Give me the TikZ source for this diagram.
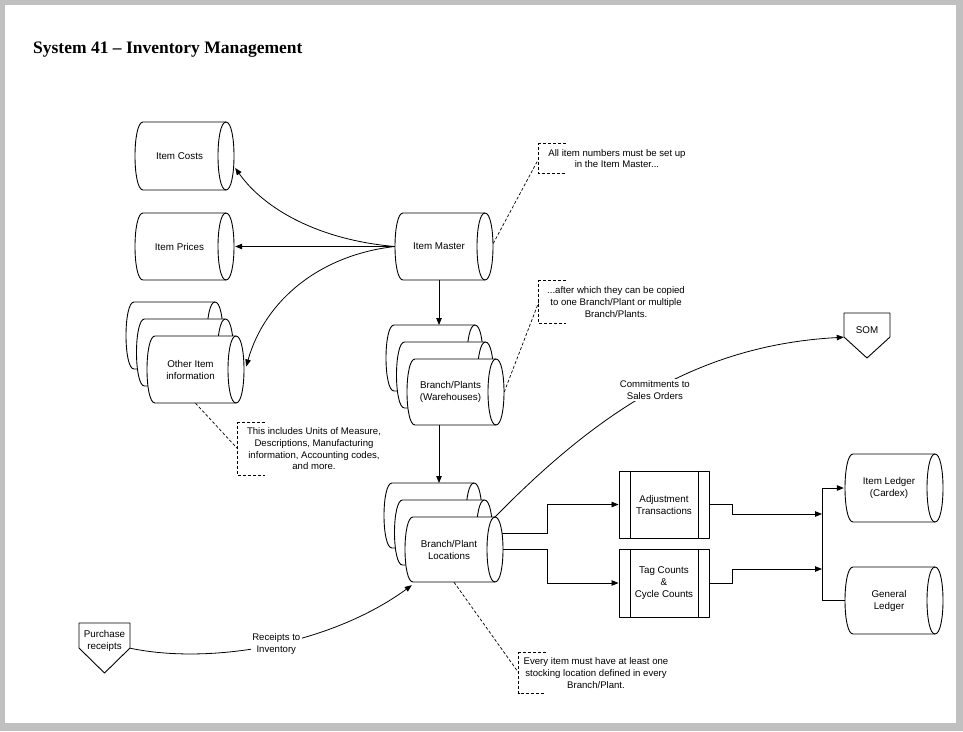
\documentclass[tikz,border=0pt]{standalone}
\usepackage{fontspec}
\setmainfont{Liberation Sans}
\newfontfamily\titlefont{Liberation Serif}
\usetikzlibrary{arrows.meta,calc}
\definecolor{framegray}{RGB}{192,192,192}
\tikzset{
 shp/.style={draw=black, line width=0.9pt, fill=white, line join=round},
 txt/.style={font=\fontsize{9.8}{12}\selectfont, align=center, inner sep=0pt},
 lbl/.style={font=\fontsize{9.6}{12.5}\selectfont, align=center, inner sep=1.5pt, fill=white},
 arr/.style={line width=0.8pt, -{Triangle[length=7pt,width=5.5pt]}},
 note/.style={font=\fontsize{9.6}{11.7}\selectfont, align=center, inner sep=0pt},
 brk/.style={line width=0.8pt, dash pattern=on 3pt off 2pt},
 dline/.style={line width=0.7pt, dash pattern=on 3pt off 2pt},
}
\newcommand\drumpath[4]{%
  \filldraw[shp] ({#1},{#3}) -- ({#2},{#3}) .. controls ({#2+10.67},{#3}) and ({#2+10.67},{#4}) .. ({#2},{#4}) -- ({#1},{#4}) .. controls ({#1-10.67},{#4}) and ({#1-10.67},{#3}) .. cycle;
  \draw[shp,fill=none] ({#2},{#3}) .. controls ({#2-10.67},{#3}) and ({#2-10.67},{#4}) .. ({#2},{#4});
}
\newcommand\drum[6]{%
  \drumpath{#2-#4/2}{#2+#4/2}{#3-#5/2}{#3+#5/2}
  \node[txt, minimum width=#4pt, minimum height=#5pt] (#1) at ({#2},{#3}) {};
  \node[txt] (#1-t) at ({#2-5},{#3}) {#6};
}
\newcommand\stack[6]{%
  \drumpath{#2-#4/2-21}{#2+#4/2-21}{#3-#5/2-34}{#3+#5/2-34}
  \drumpath{#2-#4/2-10.5}{#2+#4/2-10.5}{#3-#5/2-17}{#3+#5/2-17}
  \drum{#1}{#2}{#3}{#4}{#5}{#6}
  \coordinate (#1-back) at ({#2-21},{#3-#5/2-34});
}
\newcommand\proc[6]{%
  \node[shp, minimum width=#4pt, minimum height=#5pt, inner sep=0pt] (#1) at ({#2},{#3}) {};
  \draw[shp] ([xshift=12pt]#1.north west) -- ([xshift=12pt]#1.south west) ([xshift=-11pt]#1.north east) -- ([xshift=-11pt]#1.south east);
  \node[txt] (#1-t) at ({#2},{#3}) {#6};
}
\newcommand\offpage[7]{%
  \filldraw[shp] ({#2-#4/2},{#3}) -- ({#2+#4/2},{#3}) -- ({#2+#4/2},{#3+#5}) -- ({#2},{#3+#5+#6}) -- ({#2-#4/2},{#3+#5}) -- cycle;
  \node[txt, minimum width=#4pt, minimum height=#5pt] (#1) at ({#2},{#3+#5/2}) {};
  \node[txt] (#1-t) at ({#2},{#3+17.5}) {#7};
}
\newcommand\note[6]{%
  \node[note, minimum width=#4pt, minimum height=#5pt] (#1) at ({#2+#4/2},{#3}) {#6};
  \draw[brk] ([xshift=27pt]#1.north west) -- (#1.north west) -- (#1.south west) -- ([xshift=27pt]#1.south west);
}
\begin{document}
\begin{tikzpicture}[x=1pt,y=-1pt]
\useasboundingbox (0,0) rectangle (963,731);
\fill[framegray] (0,0) rectangle (963,731);
\fill[white] (5,5) rectangle (956,723);
\node[anchor=base west, font={\fontsize{17.5}{20}\selectfont\titlefont\bfseries}, inner sep=0pt] (title) at (33,53) {System 41 – Inventory Management};

\drum{IC}{184.5}{156}{83}{68}{Item Costs}
\drum{IP}{184.5}{246.5}{83}{67}{Item Prices}
\drum{IM}{444}{246.5}{82}{67}{Item Master}
\stack{OI}{195.5}{369.5}{81}{67}{Other Item\\information}
\stack{BP}{455.5}{392}{81}{66}{Branch/Plants\\(Warehouses)}
\stack{BPL}{454}{549.5}{82}{65}{Branch/Plant\\Locations}
\drum{IL}{894}{488}{82}{68}{Item Ledger\\(Cardex)}
\drum{GL}{894}{600.5}{82}{67}{General\\Ledger}

\proc{AT}{664}{504.5}{90}{67}{Adjustment\\Transactions}
\proc{TC}{664}{583}{90}{68}{Tag Counts\\\&\\Cycle Counts}

\offpage{SOM}{867}{313}{46}{24}{21}{SOM}
\offpage{PR}{104.5}{623}{51}{25}{25}{Purchase\\receipts}

\note{N1}{539}{158.5}{156}{29}{All item numbers must be set up\\in the Item Master...}
\note{N2}{539}{302}{154}{42}{...after which they can be copied\\to one Branch/Plant or multiple\\Branch/Plants.}
\note{N3}{238}{449}{152}{52}{This includes Units of Measure,\\Descriptions, Manufacturing\\information, Accounting codes,\\and more.}
\note{N4}{519}{673}{154}{40}{Every item must have at least one\\stocking location defined in every\\Branch/Plant.}

% connectors from Item Master
\draw[arr] ([xshift=-8pt]IM.west) .. controls (320,240) and (265,210) .. ([xshift=9pt,yshift=-12pt]IC.east);
\draw[arr] ([xshift=-8pt]IM.west) -- ([xshift=9pt]IP.east);
\draw[arr] ([xshift=-8pt]IM.west) .. controls (320,255) and (265,300) .. ([xshift=10pt,yshift=3pt]OI.east);

\coordinate (v1) at (439,0);
\draw[arr] (IM.south -| v1) -- (BP-back -| v1);
\draw[arr] (BP.south -| v1) -- (BPL-back -| v1);

\coordinate (v2) at (547,0);
\draw[arr] ([xshift=7pt,yshift=16.5pt]BPL.east) -| (v2 |- AT.west) -- (AT.west);
\draw[arr] ([xshift=8pt]BPL.east) -| (v2 |- TC.west) -- (TC.west);

\coordinate (k) at (732,0);
\coordinate (j1) at (822,514);
\coordinate (j2) at (822,569);
\draw[arr] (AT.east) -| (k |- j1) -- (j1);
\draw[arr] (TC.east) -| (k |- j2) -- (j2);
\draw[arr] ([xshift=-8pt]GL.west) -- (GL.west -| j1) -- (IL.west -| j1) -- ([xshift=-9pt]IL.west);

\draw[arr] (BPL.north east) .. controls (600,410) and (700,345) .. (SOM.south west) node[pos=0.5, lbl] (CSO) {Commitments to\\Sales Orders};
\draw[arr] (PR.south east) .. controls (210,665) and (330,645) .. ([xshift=-1pt,yshift=-3pt]BPL.south west) node[pos=0.52, lbl] (RTI) {Receipts to\\Inventory};

% dashed annotation links
\draw[dline] ([xshift=8pt,yshift=3pt]IM.east) -- (N1.west);
\draw[dline] ([xshift=8pt]BP.east) -- (N2.west);
\draw[dline] (OI.south) -- (N3.west);
\draw[dline] (BPL.south) -- (N4.west);
\end{tikzpicture}
\end{document}
